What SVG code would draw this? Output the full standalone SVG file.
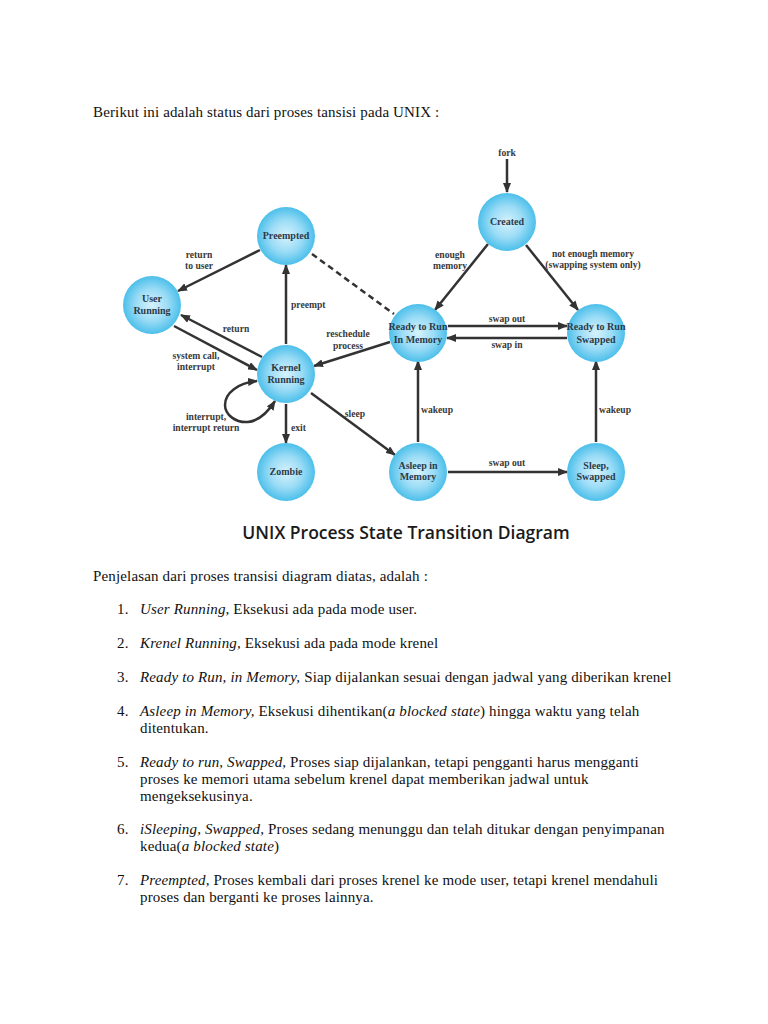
<svg xmlns="http://www.w3.org/2000/svg" width="768" height="1024" viewBox="0 0 768 1024">
<defs>
<radialGradient id="ball" cx="50%" cy="50%" r="50%">
<stop offset="0%" stop-color="#d6f2fc"/>
<stop offset="55%" stop-color="#9bdcf6"/>
<stop offset="100%" stop-color="#4cbfea"/>
</radialGradient>
<marker id="ah" viewBox="0 0 10 8" refX="9" refY="4" markerWidth="10" markerHeight="8" markerUnits="userSpaceOnUse" orient="auto-start-reverse">
<path d="M0,0 L10,4 L0,8 z" fill="#333"/>
</marker>
<style>
.node circle{fill:url(#ball);}
.nt{font-family:"Liberation Serif",serif;font-weight:bold;font-size:10px;fill:#2b3a4a;text-anchor:middle;}
.el{font-family:"Liberation Serif",serif;font-weight:bold;font-size:9.6px;fill:#3a3a3a;text-anchor:middle;}
.ln{stroke:#333;stroke-width:2.5;fill:none;}
.arr{marker-end:url(#ah);}
.body{font-family:"Liberation Serif",serif;font-size:15px;letter-spacing:0.15px;fill:#111;}
.it{font-style:italic;}
</style>
</defs>
<rect width="768" height="1024" fill="#fff"/>

<text class="body" x="93" y="117">Berikut ini adalah status dari proses tansisi pada UNIX :</text>

<g id="connectors">
<line class="ln arr" x1="507" y1="159" x2="507" y2="192"/>
<line class="ln arr" x1="260" y1="250" x2="178" y2="291"/>
<line class="ln arr" x1="286" y1="344" x2="286" y2="265"/>
<line class="ln arr" x1="262" y1="357" x2="181" y2="315"/>
<line class="ln arr" x1="174" y1="326" x2="257" y2="370"/>
<path class="ln arr" d="M 275,401 C 268,412 258,421 248,422 C 236,423 225,415 225,405 C 225,393 238,383 257,381" style="marker-start:url(#ah)"/>
<line class="ln arr" x1="286" y1="404" x2="286" y2="443"/>
<line class="ln arr" x1="390" y1="342" x2="314" y2="366"/>
<line class="ln arr" x1="311" y1="393" x2="395" y2="455"/>
<line class="ln" x1="312" y1="254" x2="394" y2="314" stroke-dasharray="6,4"/>
<line class="ln arr" x1="488" y1="244" x2="435" y2="310"/>
<line class="ln arr" x1="526" y1="245" x2="578" y2="310"/>
<line class="ln arr" x1="448" y1="326" x2="567" y2="326"/>
<line class="ln arr" x1="567" y1="338" x2="447" y2="338"/>
<line class="ln arr" x1="418" y1="442" x2="418" y2="361"/>
<line class="ln arr" x1="596" y1="442" x2="596" y2="361"/>
<line class="ln arr" x1="448" y1="472" x2="567" y2="472"/>
</g>

<g id="edge-labels">
<text class="el" x="507" y="156">fork</text>
<text class="el" x="199" y="258">return</text>
<text class="el" x="199" y="269">to user</text>
<text class="el" x="291" y="308" style="text-anchor:start">preempt</text>
<text class="el" x="236" y="332">return</text>
<text class="el" x="196" y="359">system call,</text>
<text class="el" x="196" y="370">interrupt</text>
<text class="el" x="206" y="420">interrupt,</text>
<text class="el" x="206" y="431">interrupt return</text>
<text class="el" x="291" y="431" style="text-anchor:start">exit</text>
<text class="el" x="348" y="337">reschedule</text>
<text class="el" x="348" y="349">process</text>
<text class="el" x="355" y="417">sleep</text>
<text class="el" x="450" y="258">enough</text>
<text class="el" x="450" y="269">memory</text>
<text class="el" x="593" y="257">not enough memory</text>
<text class="el" x="593" y="268">(swapping system only)</text>
<text class="el" x="507" y="322">swap out</text>
<text class="el" x="507" y="348">swap in</text>
<text class="el" x="421" y="413" style="text-anchor:start">wakeup</text>
<text class="el" x="599" y="413" style="text-anchor:start">wakeup</text>
<text class="el" x="507" y="466">swap out</text>
</g>

<g id="preempted" class="node"><circle cx="286" cy="236" r="29"/><text class="nt" x="286" y="239">Preempted</text></g>
<g id="user-running" class="node"><circle cx="152" cy="305" r="29"/><text class="nt" x="152" y="302">User</text><text class="nt" x="152" y="314">Running</text></g>
<g id="kernel-running" class="node"><circle cx="286" cy="374" r="29"/><text class="nt" x="286" y="371">Kernel</text><text class="nt" x="286" y="383">Running</text></g>
<g id="zombie" class="node"><circle cx="286" cy="472" r="29"/><text class="nt" x="286" y="475">Zombie</text></g>
<g id="created" class="node"><circle cx="507" cy="222" r="29"/><text class="nt" x="507" y="225">Created</text></g>
<g id="ready-mem" class="node"><circle cx="418" cy="333" r="29"/><text class="nt" x="418" y="330">Ready to Run</text><text class="nt" x="418" y="343">In Memory</text></g>
<g id="ready-swap" class="node"><circle cx="596" cy="333" r="29"/><text class="nt" x="596" y="330">Ready to Run</text><text class="nt" x="596" y="343">Swapped</text></g>
<g id="asleep-mem" class="node"><circle cx="418" cy="472" r="29"/><text class="nt" x="418" y="469">Asleep in</text><text class="nt" x="418" y="480">Memory</text></g>
<g id="sleep-swap" class="node"><circle cx="596" cy="472" r="29"/><text class="nt" x="596" y="469">Sleep,</text><text class="nt" x="596" y="480">Swapped</text></g>

<text x="406" y="539" font-family="Open Sans, sans-serif" font-weight="600" font-size="17.5" fill="#1a1a1a" text-anchor="middle">UNIX Process State Transition  Diagram</text>

<g id="body">
<text class="body" x="93" y="581">Penjelasan dari proses transisi diagram diatas, adalah :</text>
<text class="body" x="117" y="614">1.</text><text class="body" x="140" y="614"><tspan class="it">User Running,</tspan> Eksekusi ada pada mode user.</text>
<text class="body" x="117" y="648">2.</text><text class="body" x="140" y="648"><tspan class="it">Krenel Running,</tspan> Eksekusi ada pada mode krenel</text>
<text class="body" x="117" y="682">3.</text><text class="body" x="140" y="682"><tspan class="it">Ready to Run, in Memory,</tspan> Siap dijalankan sesuai dengan jadwal yang diberikan krenel</text>
<text class="body" x="117" y="716">4.</text><text class="body" x="140" y="716"><tspan class="it">Asleep in Memory,</tspan> Eksekusi dihentikan(<tspan class="it">a blocked state</tspan>) hingga waktu yang telah</text>
<text class="body" x="140" y="733">ditentukan.</text>
<text class="body" x="117" y="767">5.</text><text class="body" x="140" y="767"><tspan class="it">Ready to run, Swapped,</tspan> Proses siap dijalankan, tetapi pengganti harus mengganti</text>
<text class="body" x="140" y="784">proses ke memori utama sebelum krenel dapat memberikan jadwal untuk</text>
<text class="body" x="140" y="801">mengeksekusinya.</text>
<text class="body" x="117" y="834">6.</text><text class="body" x="140" y="834"><tspan class="it">iSleeping, Swapped,</tspan> Proses sedang menunggu dan telah ditukar dengan penyimpanan</text>
<text class="body" x="140" y="851">kedua(<tspan class="it">a blocked state</tspan>)</text>
<text class="body" x="117" y="885">7.</text><text class="body" x="140" y="885"><tspan class="it">Preempted,</tspan> Proses kembali dari proses krenel ke mode user, tetapi krenel mendahuli</text>
<text class="body" x="140" y="902">proses dan berganti ke proses lainnya.</text>
</g>
</svg>
